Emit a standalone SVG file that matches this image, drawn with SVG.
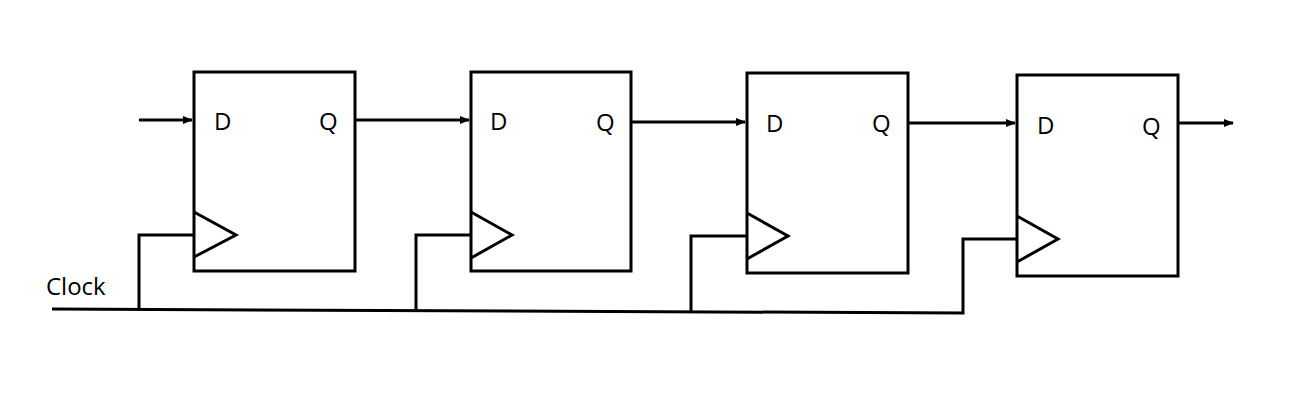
<svg xmlns="http://www.w3.org/2000/svg" width="1296" height="406" viewBox="0 0 1296 406">
<style>
.b{fill:#fff;stroke:#000;stroke-width:3}
.w{fill:none;stroke:#000;stroke-width:3}
text{font-family:"Open Sans","Liberation Sans",sans-serif;font-size:24px;fill:#000}
</style>
<defs><marker id="a" markerWidth="10" markerHeight="8" refX="9" refY="4" orient="auto" markerUnits="userSpaceOnUse"><path d="M0,0L10,4L0,8z"/></marker></defs>
<rect width="1296" height="406" fill="#fff"/>
<g id="ff1"><rect class="b" x="194" y="72" width="161" height="199"/><path class="w" d="M194,212L236,235L194,257"/><text x="214" y="130">D</text><text x="319" y="130">Q</text></g>
<g id="ff2"><rect class="b" x="471" y="72" width="160" height="199"/><path class="w" d="M471,212L512,235L471,258"/><text x="490" y="130">D</text><text x="596" y="131">Q</text></g>
<g id="ff3"><rect class="b" x="747" y="73" width="161" height="200"/><path class="w" d="M747,213L788,236L747,259"/><text x="766" y="132">D</text><text x="872" y="132">Q</text></g>
<g id="ff4"><rect class="b" x="1017" y="75" width="161" height="201"/><path class="w" d="M1017,216L1058,239L1017,262"/><text x="1037" y="134">D</text><text x="1142" y="135">Q</text></g>
<text x="46" y="295">Clock</text>
<g id="connectors">
<path class="w" d="M139,120H192" marker-end="url(#a)"/>
<path class="w" d="M355,120H469" marker-end="url(#a)"/>
<path class="w" d="M631,122H745" marker-end="url(#a)"/>
<path class="w" d="M908,123H1015" marker-end="url(#a)"/>
<path class="w" d="M1178,123H1233" marker-end="url(#a)"/>
<path class="w" d="M52,309L963,313V239H1017"/>
<path class="w" d="M139,309V235H194"/>
<path class="w" d="M416,310V235H471"/>
<path class="w" d="M691,311V236H747"/>
</g>
</svg>
